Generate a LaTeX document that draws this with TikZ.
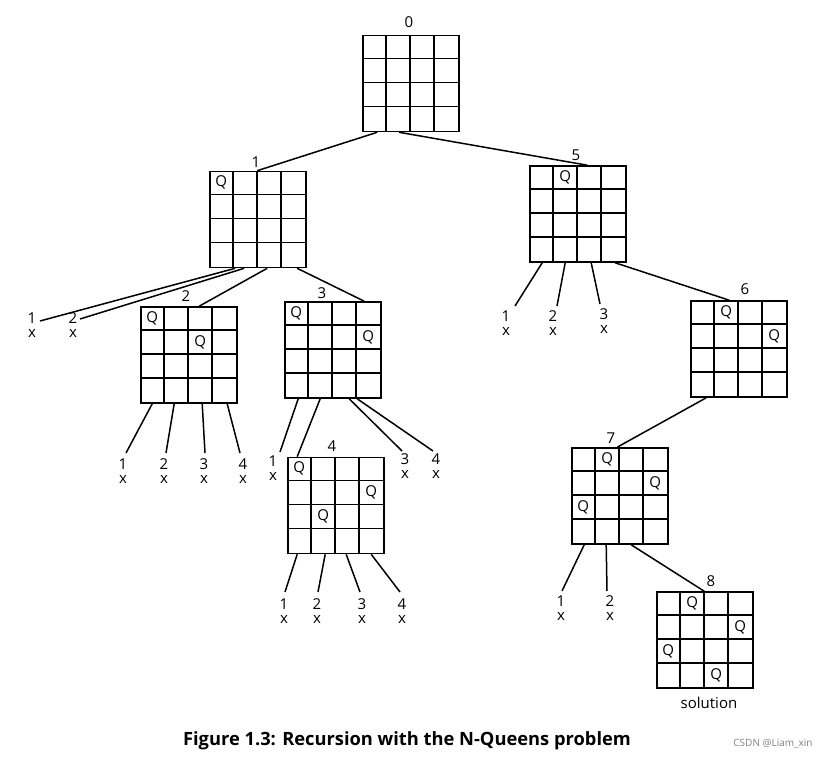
\documentclass[tikz,border=0pt]{standalone}
\usepackage{fontspec}
\setmainfont{Open Sans}
\begin{document}
\begin{tikzpicture}[x=1pt,y=-1pt,line width=1.5pt,
  board/.style={draw,minimum size=96pt,inner sep=0pt,line width=1.6pt},
  lab/.style={font=\fontsize{15}{15}\selectfont,inner sep=0pt},
  q/.style={font=\fontsize{15}{15}\selectfont,inner sep=0pt}]
\useasboundingbox (0,0) rectangle (838,759);
\newcommand{\brd}[4]{%
  \node[board] (#1) at (#2,#3) {};
  \foreach \i in {1,2,3}{
    \draw ([xshift=\i*24pt]#1.north west) -- ([xshift=\i*24pt]#1.south west);
    \draw ([yshift=-\i*24pt]#1.north west) -- ([yshift=-\i*24pt]#1.north east);}
  \foreach \c/\r in {#4}{
    \node[q] at ([xshift=\c*24pt+12pt,yshift=-\r*24pt-12pt]#1.north west) {Q};}
}
\newcommand{\brdnq}[3]{%
  \node[board] (#1) at (#2,#3) {};
  \foreach \i in {1,2,3}{
    \draw ([xshift=\i*24pt]#1.north west) -- ([xshift=\i*24pt]#1.south west);
    \draw ([yshift=-\i*24pt]#1.north west) -- ([yshift=-\i*24pt]#1.north east);}
}
\brdnq{b0}{411}{83.5}
\brd{b1}{258}{219.5}{0/0}
\brd{b5}{578}{214}{1/0}
\brd{b2}{189}{355}{0/0,2/1}
\brd{b3}{333}{350}{0/0,3/1}
\brd{b6}{739}{349}{1/0,3/1}
\brd{b4}{336}{505.5}{0/0,3/1,1/2}
\brd{b7}{620}{496}{1/0,3/1,0/2}
\brd{b8}{705}{640}{1/0,3/1,0/2,2/3}
\node[lab] at (409,22) {0};
\node[lab] at (256,162) {1};
\node[lab] at (576,155) {5};
\node[lab] at (186,296) {2};
\node[lab] at (322,293) {3};
\node[lab] at (745,289) {6};
\node[lab] at (332,446) {4};
\node[lab] at (611,438) {7};
\node[lab] at (711,581) {8};
\node[lab] at (709,703) {solution};
% leaf labels
\foreach \n/\x/\y in {l11/32/318,l12/73/318,l51/506/316,l52/553/316,l53/604/314,
  l21/123/464,l22/164/464,l23/204/464,l24/243/464,l31/273/461,l33/405/459,l34/436/459,
  l41/284/604,l42/317/604,l43/362/604,l44/402/604,l71/561/601,l72/610/601}{
  \coordinate (\n) at (\x,\y);}
\foreach \n/\t in {l11/1,l12/2,l51/1,l52/2,l53/3,l21/1,l22/2,l23/3,l24/4,l31/1,l33/3,l34/4,
  l41/1,l42/2,l43/3,l44/4,l71/1,l72/2}{
  \node[lab] at (\n) {\t};
  \node[lab] at ([yshift=-15pt]\n) {x};}
% edges
\draw ([xshift=15pt]b0.south west) -- ([xshift=48pt]b1.north west);
\draw ([xshift=37pt]b0.south west) -- ([xshift=58pt]b5.north west);
\draw ([xshift=26pt]b1.south west) -- ([xshift=8pt,yshift=-3pt]l11);
\draw ([xshift=35pt]b1.south west) -- ([xshift=7pt,yshift=-1pt]l12);
\draw ([xshift=58pt]b1.south west) -- ([xshift=59pt]b2.north west);
\draw ([xshift=88pt]b1.south west) -- ([xshift=80pt]b3.north west);
\draw ([xshift=13pt]b5.south west) -- ([xshift=9pt,yshift=10pt]l51);
\draw ([xshift=36pt]b5.south west) -- ([xshift=4pt,yshift=10pt]l52);
\draw ([xshift=62pt]b5.south west) -- ([xshift=-4pt,yshift=10pt]l53);
\draw ([xshift=86pt]b5.south west) -- ([xshift=39pt]b6.north west);
\draw ([xshift=12pt]b2.south west) -- ([xshift=3pt,yshift=11pt]l21);
\draw ([xshift=34pt]b2.south west) -- ([xshift=2pt,yshift=11pt]l22);
\draw ([xshift=62pt]b2.south west) -- ([xshift=1pt,yshift=11pt]l23);
\draw ([xshift=87pt]b2.south west) -- ([xshift=-3pt,yshift=11pt]l24);
\draw ([xshift=14pt]b3.south west) -- ([xshift=7pt,yshift=9pt]l31);
\draw ([xshift=36pt]b3.south west) -- ([xshift=10pt]b4.north west);
\draw ([xshift=65pt]b3.south west) -- ([xshift=-3pt,yshift=8pt]l33);
\draw ([xshift=73pt]b3.south west) -- ([xshift=-3pt,yshift=8pt]l34);
\draw ([xshift=16pt]b6.south west) -- ([xshift=46pt]b7.north west);
\draw ([xshift=10pt]b4.south west) -- ([xshift=1pt,yshift=12pt]l41);
\draw ([xshift=38pt]b4.south west) -- ([xshift=1pt,yshift=12pt]l42);
\draw ([xshift=59pt]b4.south west) -- ([xshift=-2pt,yshift=12pt]l43);
\draw ([xshift=84pt]b4.south west) -- ([xshift=-2pt,yshift=12pt]l44);
\draw ([xshift=13pt]b7.south west) -- ([xshift=1pt,yshift=10pt]l71);
\draw ([xshift=35pt]b7.south west) -- ([xshift=-3pt,yshift=10pt]l72);
\draw ([xshift=60pt]b7.south west) -- ([xshift=48pt]b8.north west);
\node[font=\fontsize{18.3}{18}\selectfont\bfseries,inner sep=0pt] (cap) at (407,741) {Figure 1.3: Recursion with the N-Queens problem};
\node[font=\fontsize{10}{10}\selectfont,text=gray,inner sep=0pt] (wm) at (773,744) {CSDN @Liam\_xin};
\end{tikzpicture}
\end{document}
